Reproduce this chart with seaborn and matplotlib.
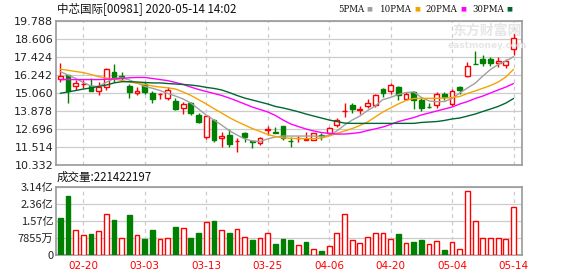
import numpy as np
import pandas as pd
import matplotlib
matplotlib.use("Agg")
import matplotlib.pyplot as plt
import seaborn as sns

# trading days shown (2020)
dates = ["02-17", "02-18", "02-19", "02-20", "02-21", "02-24", "02-25", "02-26", "02-27", "02-28",
         "03-02", "03-03", "03-04", "03-05", "03-06", "03-09", "03-10", "03-11", "03-12", "03-13",
         "03-16", "03-17", "03-18", "03-19", "03-20", "03-23", "03-24", "03-25", "03-26", "03-27",
         "03-30", "03-31", "04-01", "04-02", "04-03", "04-06", "04-07", "04-08", "04-09", "04-14",
         "04-15", "04-16", "04-17", "04-20", "04-21", "04-22", "04-23", "04-24", "04-27", "04-28",
         "04-29", "05-04", "05-05", "05-06", "05-07", "05-08", "05-11", "05-12", "05-13", "05-14"]
tick_labels = ["02-20", "03-03", "03-13", "03-25", "04-06", "04-20", "05-04", "05-14"]

opens = [15.97, 16.23, 15.53, 15.62, 15.51, 15.20, 15.42, 16.41, 16.16, 15.51,
         15.03, 15.62, 15.05, 14.98, 14.72, 14.55, 14.05, 14.42, 13.61, 12.19,
         13.28, 12.08, 12.30, 11.88, 12.41, 11.88, 11.75, 12.65, 12.48, 12.89,
         11.92, 12.08, 12.00, 11.97, 12.27, 12.41, 12.95, 13.85, 14.26, 13.96,
         14.20, 14.26, 15.29, 15.20, 15.42, 14.66, 15.13, 14.59, 14.16, 14.26,
         14.98, 14.31, 15.42, 16.18, 16.97, 17.26, 17.26, 17.00, 16.88, 17.91]
highs = [16.99, 16.25, 15.88, 15.88, 16.01, 15.75, 16.69, 16.95, 16.41, 15.67,
         15.46, 15.79, 15.18, 15.07, 15.42, 14.70, 14.48, 14.48, 13.72, 13.61,
         13.33, 12.47, 12.67, 12.08, 12.49, 11.93, 12.19, 12.91, 12.84, 12.89,
         12.19, 12.23, 12.52, 12.41, 12.45, 12.80, 13.43, 14.38, 14.37, 14.22,
         14.66, 14.98, 15.36, 15.68, 15.51, 15.09, 15.20, 14.70, 14.42, 15.09,
         15.13, 15.31, 15.51, 17.10, 17.80, 17.54, 17.43, 17.39, 17.26, 19.00]
lows = [15.79, 14.41, 15.27, 15.36, 15.20, 14.92, 15.27, 15.75, 15.90, 14.70,
        14.92, 14.96, 14.37, 14.64, 14.59, 13.94, 13.65, 13.61, 13.06, 12.04,
        11.86, 11.53, 11.53, 11.16, 11.82, 11.43, 11.64, 12.30, 12.46, 11.97,
        11.53, 11.86, 11.97, 11.97, 11.97, 12.30, 12.84, 13.50, 13.76, 13.67,
        14.05, 14.15, 14.81, 14.98, 14.59, 14.59, 13.98, 13.89, 14.05, 14.05,
        14.59, 14.20, 14.98, 16.12, 16.95, 16.84, 16.82, 16.77, 16.71, 17.54]
closes = [16.15, 15.18, 15.70, 15.66, 15.20, 15.46, 16.62, 16.01, 16.01, 15.13,
          15.18, 15.13, 14.66, 15.00, 15.27, 13.98, 14.31, 13.76, 13.13, 13.54,
          11.97, 12.21, 11.69, 11.90, 12.19, 11.86, 12.08, 12.67, 12.46, 12.08,
          11.90, 12.10, 12.05, 12.41, 12.25, 12.73, 13.28, 13.89, 13.98, 13.98,
          14.37, 14.92, 15.07, 15.57, 14.92, 14.98, 14.59, 14.05, 14.14, 14.98,
          14.77, 15.18, 15.25, 16.84, 16.95, 17.00, 17.00, 17.17, 17.17, 18.63]

ma5 = [16.45, 16.23, 16.01, 15.74, 15.51, 15.48, 15.75, 16.00, 16.05, 15.90,
       15.71, 15.48, 15.36, 15.21, 15.02, 14.85, 14.66, 14.39, 14.00, 13.61,
       13.28, 12.95, 12.59, 12.30, 12.04, 11.91, 11.87, 12.04, 12.17, 12.23,
       12.23, 12.23, 12.23, 12.23, 12.20, 12.27, 12.56, 12.95, 13.28, 13.54,
       13.90, 14.20, 14.62, 14.76, 14.95, 15.08, 15.12, 14.76, 14.53, 14.48,
       14.49, 14.69, 15.05, 15.38, 15.69, 16.16, 16.59, 16.92, 17.15, 17.43]
ma10 = [16.61, 16.54, 16.46, 16.39, 16.26, 16.13, 16.03, 15.97, 15.87, 15.77,
        15.69, 15.61, 15.51, 15.44, 15.39, 15.31, 15.12, 14.89, 14.62, 14.33,
        14.03, 13.74, 13.44, 13.18, 12.95, 12.72, 12.53, 12.33, 12.20, 12.11,
        12.08, 12.06, 12.06, 12.06, 12.10, 12.23, 12.40, 12.56, 12.72, 12.92,
        13.15, 13.48, 13.81, 14.07, 14.33, 14.56, 14.69, 14.70, 14.70, 14.70,
        14.72, 14.75, 14.82, 15.02, 15.18, 15.36, 15.54, 15.77, 16.10, 16.60]
ma20 = [15.93, 15.93, 15.93, 15.93, 15.93, 15.93, 15.95, 15.97, 16.01, 16.05,
        16.07, 16.07, 16.00, 15.93, 15.86, 15.74, 15.61, 15.44, 15.28, 15.15,
        15.02, 14.89, 14.72, 14.53, 14.33, 14.13, 13.97, 13.81, 13.58, 13.28,
        13.02, 12.85, 12.69, 12.56, 12.46, 12.40, 12.36, 12.36, 12.40, 12.46,
        12.59, 12.70, 12.82, 12.99, 13.18, 13.31, 13.44, 13.61, 13.74, 13.87,
        14.00, 14.13, 14.33, 14.49, 14.69, 14.85, 15.05, 15.25, 15.44, 15.67]
ma30 = [15.03, 15.12, 15.21, 15.31, 15.38, 15.48, 15.57, 15.71, 15.79, 15.79,
        15.77, 15.74, 15.71, 15.71, 15.67, 15.64, 15.61, 15.57, 15.51, 15.42,
        15.35, 15.25, 15.08, 14.89, 14.72, 14.59, 14.46, 14.33, 14.17, 14.07,
        13.95, 13.82, 13.67, 13.54, 13.41, 13.28, 13.18, 13.08, 13.06, 13.06,
        13.06, 13.06, 13.06, 13.06, 13.06, 13.06, 13.06, 13.12, 13.15, 13.18,
        13.25, 13.35, 13.41, 13.54, 13.67, 13.84, 14.00, 14.17, 14.39, 14.69]

# volume in millions of shares
volumes = [170, 273, 115, 90, 96, 110, 188, 161, 77, 184,
           90, 74, 115, 72, 77, 129, 124, 78, 101, 152,
           156, 113, 101, 118, 81, 69, 77, 100, 50, 73,
           69, 44, 60, 26, 18, 40, 100, 188, 67, 54,
           81, 100, 100, 72, 96, 54, 60, 69, 49, 64,
           23, 58, 26, 293, 155, 77, 77, 77, 72, 221.422197]
vol_up = [0, 0, 1, 1, 0, 1, 1, 0, 1, 0,
          1, 0, 0, 1, 1, 0, 1, 0, 0, 1,
          0, 1, 0, 1, 1, 0, 1, 1, 0, 0,
          0, 1, 0, 1, 0, 1, 1, 1, 1, 1,
          1, 1, 1, 1, 0, 1, 0, 0, 1, 1,
          0, 1, 1, 1, 1, 1, 1, 1, 1, 1]

price_ticks = [10.332, 11.514, 12.696, 13.878, 15.060, 16.242, 17.424, 18.606, 19.788]
vol_ticks = [0, 78.55, 157.1, 235.6, 314.2]
vol_tick_labels = ["0", "7855万", "1.57亿", "2.36亿", "3.14亿"]

RED = "#ff0000"
GREEN = "#008000"
ma_colors = {"5PMA": "#a0a0a0", "10PMA": "#f5a300", "20PMA": "#ff00ff", "30PMA": "#006633"}

sns.set_theme(style="white")
plt.rcParams["font.family"] = ["Noto Sans CJK SC", "DejaVu Sans"]

df = pd.DataFrame({"date": dates, "open": opens, "high": highs, "low": lows,
                   "close": closes, "vol": volumes, "vol_up": vol_up})
df["i"] = np.arange(len(df))
ma = pd.DataFrame({"i": df["i"], "5PMA": ma5, "10PMA": ma10, "20PMA": ma20, "30PMA": ma30})
ma_long = ma.melt(id_vars="i", var_name="line", value_name="price")

fig = plt.figure(figsize=(5.78, 2.76), dpi=100)
ax = fig.add_axes([56 / 578, 1 - 165 / 276, 466 / 578, 144.3 / 276])
vax = fig.add_axes([56 / 578, 1 - 255 / 276, 466 / 578, 68.3 / 276])

tick_pos = [dates.index(t) for t in tick_labels]
for a in (ax, vax):
    a.set_facecolor("white")
    a.set_xlim(-0.55, 60.1)
    for s in a.spines.values():
        s.set_color("#999999")
        s.set_linewidth(1.2)
    a.set_xticks(tick_pos)
    a.grid(axis="x", color="#cccccc", linestyle=(0, (3, 3)), linewidth=0.9)
    a.grid(axis="y", color="#cccccc", linestyle="-", linewidth=0.9)
    a.set_axisbelow(True)
    a.tick_params(length=0, pad=2)

# candles
up = df["close"] >= df["open"]
cols = np.where(up, RED, GREEN)
ax.vlines(df["i"], df["low"], df["high"], colors=cols, linewidth=1.0, zorder=2)
body_bot = np.minimum(df["open"], df["close"])
body_h = np.maximum(np.abs(df["close"] - df["open"]), 0.015)
ax.bar(df["i"][up], body_h[up], bottom=body_bot[up], width=0.62,
       facecolor="white", edgecolor=RED, linewidth=1.0, zorder=3)
ax.bar(df["i"][~up], body_h[~up], bottom=body_bot[~up], width=0.62,
       facecolor=GREEN, edgecolor=GREEN, linewidth=1.0, zorder=3)

sns.lineplot(data=ma_long, x="i", y="price", hue="line", palette=ma_colors,
             linewidth=1.0, legend=False, ax=ax, zorder=4)
ax.set_ylim(10.332, 19.788)
ax.set_yticks(price_ticks)
ax.set_yticklabels([f"{v:.3f}" for v in price_ticks], fontsize=8, color="#222222",
                   family="DejaVu Sans")
ax.set_xticklabels([])
ax.set_xlabel("")
ax.set_ylabel("")

# volume
vup = df["vol_up"] == 1
vax.bar(df["i"][vup], df["vol"][vup], width=0.62, facecolor="white",
        edgecolor=RED, linewidth=1.0, zorder=3)
vax.bar(df["i"][~vup], df["vol"][~vup], width=0.62, facecolor=GREEN,
        edgecolor=GREEN, linewidth=1.0, zorder=3)
vax.set_ylim(0, 314.2)
vax.set_yticks(vol_ticks)
vax.set_yticklabels(vol_tick_labels, fontsize=8, color="#222222")
vax.set_xticklabels(tick_labels, fontsize=7.5, color=RED, family="DejaVu Sans")
vax.tick_params(axis="x", pad=4)

# texts
fig.text(57 / 578, 1 - 9 / 276, "中芯国际[00981] 2020-05-14 14:02", fontsize=8.3,
         color="#111111", va="center", ha="left")
fig.text(57 / 578, 1 - 177 / 276, "成交量:221422197", fontsize=8.3,
         color="#111111", va="center", ha="left")

# legend: name text followed by a small colour square
legend_pos = {"5PMA": (338, 366), "10PMA": (380, 414), "20PMA": (425, 460), "30PMA": (472, 506)}
for name, c in ma_colors.items():
    tx, sx = legend_pos[name]
    fig.text(tx / 578, 1 - 9 / 276, name, fontsize=6.2, color="#111111",
             va="center", ha="left", family="DejaVu Serif")
    fig.text(sx / 578, 1 - 9 / 276, "■", fontsize=4.5, color=c, va="center",
             ha="left", family="DejaVu Sans")

# watermark
fig.text(487 / 578, 1 - 31 / 276, "东方财富网", fontsize=10, fontweight="bold",
         color="#e6e6e6", va="center", ha="center", zorder=0)
fig.text(487 / 578, 1 - 45 / 276, "eastmoney.com", fontsize=6.5, fontweight="bold",
         color="#e6e6e6", va="center", ha="center", family="DejaVu Sans", zorder=0)

fig.savefig("out.png", dpi=100)
